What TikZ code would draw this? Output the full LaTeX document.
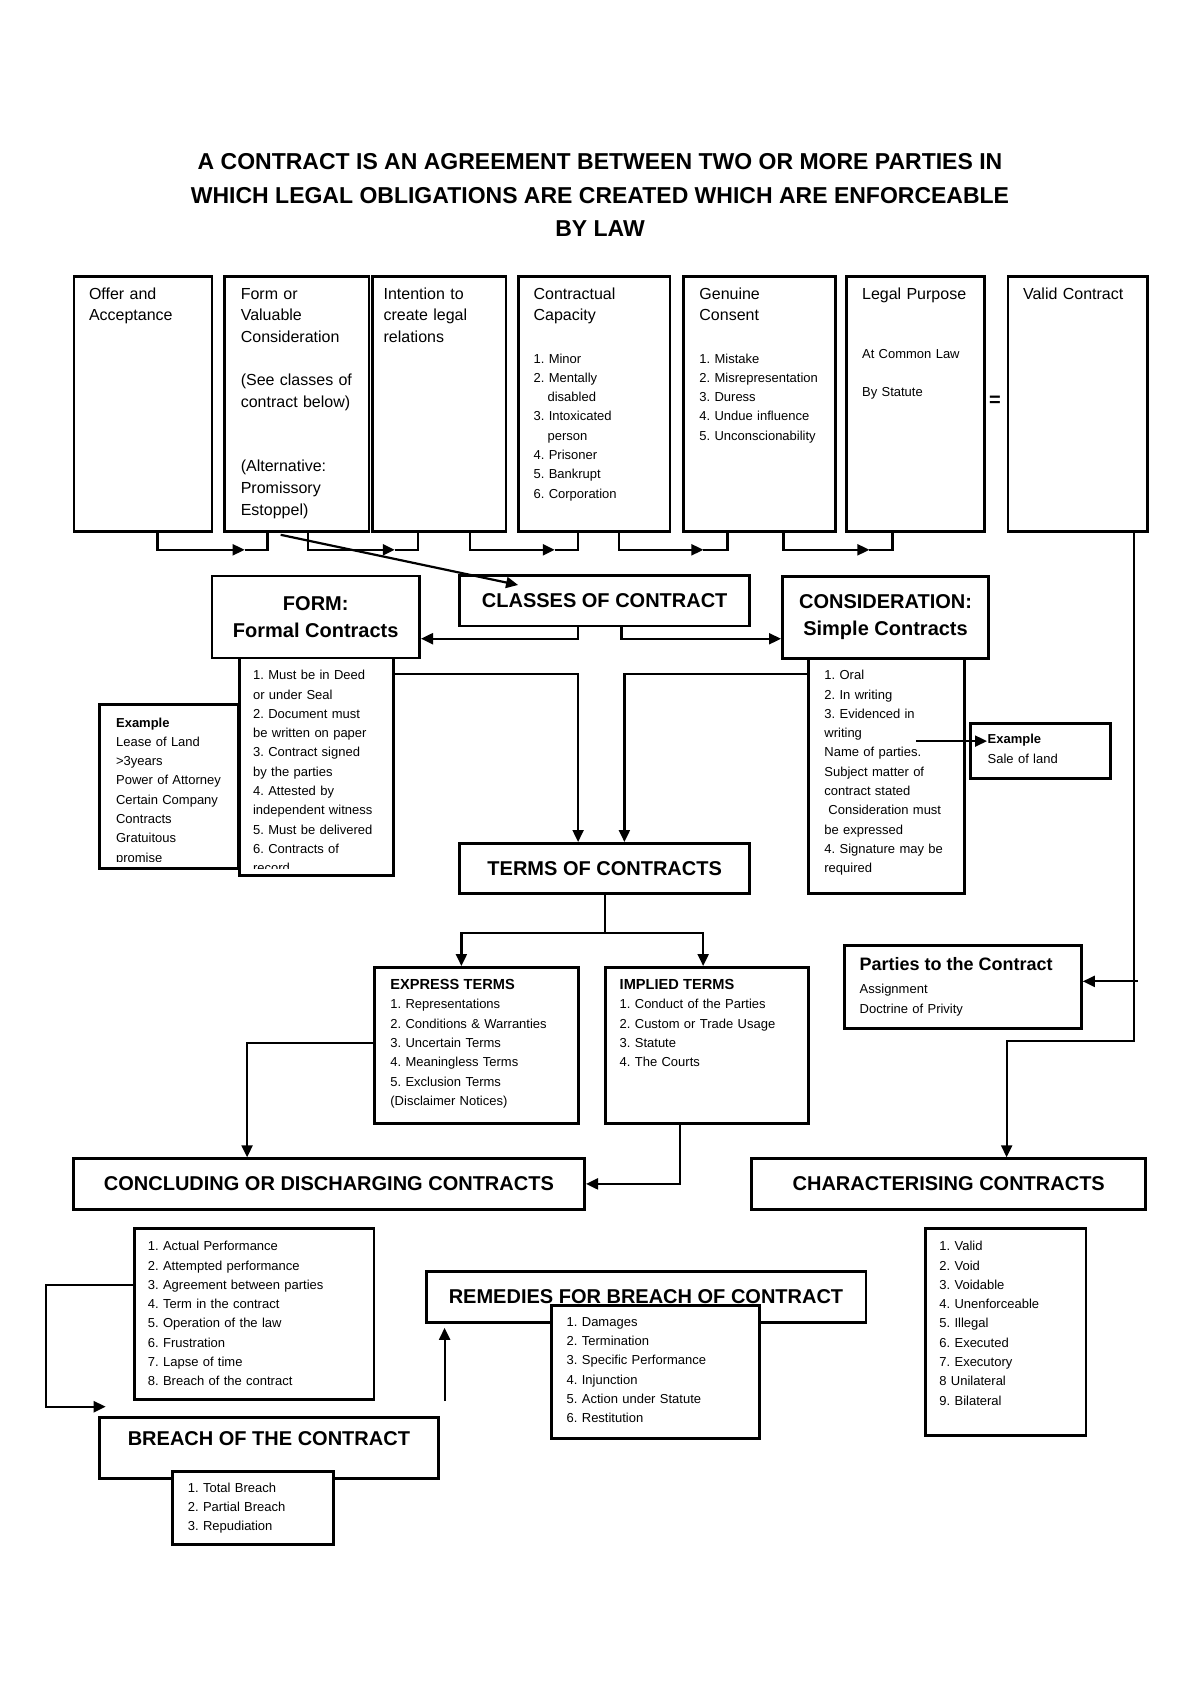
\documentclass[tikz,border=0pt]{standalone}
\usepackage{fontspec}
\setmainfont{Liberation Sans}
\frenchspacing
\usetikzlibrary{calc}
\usetikzlibrary{positioning}
\usetikzlibrary{arrows.meta}
\tikzstyle{frame} = [draw, rectangle, line width=1.4pt, fill=white, anchor=north west, inner sep=0pt]
\tikzstyle{headtext} = [anchor=base west, inner sep=0pt, text width=90pt, align=left, font=\fontsize{8}{10.8}\selectfont]
\tikzstyle{itemtext} = [anchor=base west, inner sep=0pt, text width=110pt, align=left, font=\fontsize{6.5}{9.65}\selectfont]
\tikzstyle{boldtext} = [font=\bfseries\fontsize{10}{13.3}\selectfont, align=center]
\tikzstyle{link} = [line width=1.1pt]
\tikzstyle{arr} = [-{Triangle[length=6pt,width=5.5pt]}]

\begin{document}
\begin{tikzpicture}[x=0.5pt, y=-0.5pt]
  \useasboundingbox (0,0) rectangle (1200,1698);

  \node[font=\bfseries\fontsize{11.5}{16.75}\selectfont, align=center] (title) at (600,195)
    {A CONTRACT IS AN AGREEMENT BETWEEN TWO OR MORE PARTIES IN\\WHICH LEGAL OBLIGATIONS ARE CREATED WHICH ARE ENFORCEABLE\\BY LAW};

  % elements of a valid contract
  \node[frame, minimum width=69pt, minimum height=127.5pt] (offer) at (72.5,275) {};
  \node[frame, minimum width=72.25pt, minimum height=127.5pt] (form) at (223,275) {};
  \node[frame, minimum width=66.75pt, minimum height=127.5pt] (intent) at (371,275) {};
  \node[frame, minimum width=75.75pt, minimum height=127.5pt] (capac) at (517,275) {};
  \node[frame, minimum width=76pt, minimum height=127.5pt] (consent) at (682,275) {};
  \node[frame, minimum width=69pt, minimum height=127.5pt] (purpose) at (845,275) {};
  \node[frame, minimum width=69.75pt, minimum height=127.5pt] (valid) at (1006.5,275) {};
  \node[boldtext] (equals) at (995,401.7) {=};

  \node[headtext] (offer-t) at ($(offer.north west)+(16.1,24)$) {Offer and\\Acceptance};
  \node[headtext] (form-t) at ($(form.north west)+(17.4,24)$) {Form or\\Valuable\\Consideration\\[10.8pt](See classes of\\contract below)\\[21.6pt](Alternative:\\Promissory\\Estoppel)};
  \node[headtext] (intent-t) at ($(intent.north west)+(12.2,24)$) {Intention to\\create legal\\relations};
  \node[headtext] (capac-t) at ($(capac.north west)+(16.2,24)$) {Contractual\\Capacity};
  \node[itemtext] (capac-l) at ($(capac.north west)+(16.2,88)$) {1. Minor\\2. Mentally\\\hspace*{7pt}disabled\\3. Intoxicated\\\hspace*{7pt}person\\4. Prisoner\\5. Bankrupt\\6. Corporation};
  \node[headtext] (consent-t) at ($(consent.north west)+(17,24)$) {Genuine\\Consent};
  \node[itemtext] (consent-l) at ($(consent.north west)+(17,88)$) {1. Mistake\\2. Misrepresentation\\3. Duress\\4. Undue influence\\5. Unconscionability};
  \node[headtext] (purpose-t) at ($(purpose.north west)+(16.7,24)$) {Legal Purpose};
  \node[itemtext] (purpose-l) at ($(purpose.north west)+(16.7,83.7)$) {At Common Law\\[9.2pt]By Statute};
  \node[headtext] (valid-t) at ($(valid.north west)+(16.2,24)$) {Valid Contract};

  % classes of contract
  \node[frame, boldtext, minimum width=103.85pt, minimum height=41pt] (formbox) at (210.5,574.5) {FORM:\\Formal Contracts};
  \node[frame, boldtext, minimum width=145pt, minimum height=25.1pt] (classes) at (458.3,574.3) {CLASSES OF CONTRACT};
  \node[frame, boldtext, minimum width=103.15pt, minimum height=40.85pt] (consid) at (781,575) {CONSIDERATION:\\Simple Contracts};

  \node[frame, minimum width=77.3pt, minimum height=108.9pt] (formlist) at (237.7,656.5) {};
  \begin{scope}
    \clip (formlist.north west) rectangle ($(formlist.south east)+(0,-9)$);
    \node[itemtext] (formlist-t) at ($(formlist.north west)+(15,23.2)$) {1. Must be in Deed\\or under Seal\\2. Document must\\be written on paper\\3. Contract signed\\by the parties\\4. Attested by\\independent witness\\5. Must be delivered\\6. Contracts of\\record};
  \end{scope}
  \node[frame, minimum width=69.45pt, minimum height=82pt] (exleft) at (98.3,703.3) {};
  \begin{scope}
    \clip (exleft.north west) rectangle ($(exleft.south east)+(0,-9)$);
    \node[itemtext] (exleft-t) at ($(exleft.north west)+(17.4,23.7)$) {\textbf{Example}\\Lease of Land\\>3years\\Power of Attorney\\Certain Company\\Contracts\\Gratuitous\\promise};
  \end{scope}

  \node[frame, minimum width=78pt, minimum height=117.5pt] (considlist) at (807.3,656.7) {};
  \node[itemtext] (considlist-t) at ($(considlist.north west)+(16.7,23)$) {1. Oral\\2. In writing\\3. Evidenced in\\writing\\Name of parties.\\Subject matter of\\contract stated\\\hspace*{2pt}Consideration must\\be expressed\\4. Signature may be\\required};
  \node[frame, minimum width=70pt, minimum height=27.5pt] (exright) at (969.3,721.7) {};
  \node[itemtext] (exright-t) at ($(exright.north west)+(18,22)$) {\textbf{Example}\\Sale of land};

  % terms
  \node[frame, boldtext, minimum width=145pt, minimum height=25.15pt] (terms) at (458.3,842) {TERMS OF CONTRACTS};
  \node[frame, minimum width=102.3pt, minimum height=77.85pt] (express) at (372.7,966) {};
  \node[itemtext] (express-t) at ($(express.north west)+(17.3,23.5)$) {{\bfseries\fontsize{7.3}{9.65}\selectfont EXPRESS TERMS}\\1. Representations\\2. Conditions \& Warranties\\3. Uncertain Terms\\4. Meaningless Terms\\5. Exclusion Terms\\(Disclaimer Notices)};
  \node[frame, minimum width=101.35pt, minimum height=78pt] (implied) at (604,966) {};
  \node[itemtext] (implied-t) at ($(implied.north west)+(15.3,23.5)$) {{\bfseries\fontsize{7.3}{9.65}\selectfont IMPLIED TERMS}\\1. Conduct of the Parties\\2. Custom or Trade Usage\\3. Statute\\4. The Courts};

  \node[frame, minimum width=118.35pt, minimum height=41.35pt] (parties) at (843.3,944) {};
  \node[anchor=base west, inner sep=0pt, font=\bfseries\fontsize{9}{11}\selectfont] (parties-t) at ($(parties.north west)+(16,26.7)$) {Parties to the Contract};
  \node[itemtext] (parties-l) at ($(parties.north west)+(16,49.7)$) {Assignment\\Doctrine of Privity};

  % ending and characterising
  \node[frame, boldtext, minimum width=255.7pt, minimum height=25.2pt] (concl) at (71.8,1157.3) {CONCLUDING OR DISCHARGING CONTRACTS};
  \node[frame, boldtext, minimum width=197.05pt, minimum height=25.2pt] (charact) at (750.3,1157.3) {CHARACTERISING CONTRACTS};
  \node[frame, minimum width=119.65pt, minimum height=85.2pt] (concllist) at (133.2,1227.3) {};
  \node[itemtext] (concllist-t) at ($(concllist.north west)+(14.3,23.4)$) {1. Actual Performance\\2. Attempted performance\\3. Agreement between parties\\4. Term in the contract\\5. Operation of the law\\6. Frustration\\7. Lapse of time\\8. Breach of the contract};
  \node[frame, minimum width=80.25pt, minimum height=103.35pt] (charlist) at (924,1227.3) {};
  \node[itemtext] (charlist-t) at ($(charlist.north west)+(15,23.4)$) {1. Valid\\2. Void\\3. Voidable\\4. Unenforceable\\5. Illegal\\6. Executed\\7. Executory\\8 Unilateral\\9. Bilateral};

  \node[frame, minimum width=169.3pt, minimum height=30.8pt] (breach) at (98.2,1415.7) {};
  \node[boldtext] (breach-t) at ($(breach.north)+(0,22.6)$) {BREACH OF THE CONTRACT};
  \node[frame, minimum width=80.7pt, minimum height=36.65pt] (breachlist) at (170.7,1470) {};
  \node[itemtext] (breachlist-t) at ($(breachlist.north west)+(16.8,22.3)$) {1. Total Breach\\2. Partial Breach\\3. Repudiation};

  \node[frame, boldtext, minimum width=219.9pt, minimum height=25.35pt] (remedies) at (424.7,1270) {REMEDIES FOR BREACH OF CONTRACT};
  \node[frame, minimum width=104.3pt, minimum height=66.35pt] (remedylist) at (549.8,1304) {};
  \node[itemtext] (remedylist-t) at ($(remedylist.north west)+(16.5,22.3)$) {1. Damages\\2. Termination\\3. Specific Performance\\4. Injunction\\5. Action under Statute\\6. Restitution};

  % brackets along the top row
  \draw[link,arr] ($(offer.south)+(14.5,0)$) |- ($(form.south)+(-52,17)$);
  \draw[link] ($(form.south)+(-52,17)$) -| ($(form.south)+(-29.2,0)$);
  \draw[link,arr] ($(form.south)+(11.4,0)$) |- ($(intent.south)+(-44.4,17)$);
  \draw[link] ($(intent.south)+(-44.4,17)$) -| ($(intent.south)+(-21,0)$);
  \draw[link,arr] ($(intent.south)+(30.5,0)$) |- ($(capac.south)+(-39.4,17)$);
  \draw[link] ($(capac.south)+(-39.4,17)$) -| ($(capac.south)+(-16,0)$);
  \draw[link,arr] ($(capac.south)+(24.7,0)$) |- ($(consent.south)+(-56,17)$);
  \draw[link] ($(consent.south)+(-56,17)$) -| ($(consent.south)+(-32,0)$);
  \draw[link,arr] ($(consent.south)+(24,0)$) |- ($(purpose.south)+(-46,17)$);
  \draw[link] ($(purpose.south)+(-46,17)$) -| ($(purpose.south)+(-23,0)$);
  \draw[link,arr] ($(form.south)+(-16,2)$) -- ($(classes.north)+(-86.6,10.7)$);

  \draw[link,arr] ($(classes.south)+(-26.6,0)$) |- ($(formbox.east)+(0,21.8)$);
  \draw[link,arr] ($(classes.south)+(16.7,0)$) |- ($(consid.west)+(0,21.5)$);
  \draw[link,arr] ($(formlist.north east)+(0,17.5)$) -| ($(terms.north)+(-26.6,0)$);
  \draw[link,arr] ($(considlist.north west)+(0,17.3)$) -| ($(terms.north)+(19.7,0)$);
  \draw[link,arr] ($(exright.west)+(-53.3,-9.5)$) -- ($(exright.west)+(17.7,-9.5)$);

  \coordinate (split) at ($(terms.south)+(0,37.7)$);
  \draw[link] (terms.south) -- (split);
  \draw[link,arr] (split) -| ($(express.north)+(-15,0)$);
  \draw[link,arr] (split) -| ($(implied.north)+(-3.6,0)$);
  \draw[link,arr] ($(express.west)+(0,-2.2)$) -| ($(concl.north)+(-81.8,0)$);
  \draw[link,arr] ($(implied.south)+(-26.9,0)$) |- (concl.east);

  \draw[link,arr] ($(valid.south)+(56,0)$) |- ($(charact.north)+(57.9,-116.6)$) -- ($(charact.north)+(57.9,0)$);
  \draw[link,arr] ($(parties.east)+(55,-5.4)$) -- ($(parties.east)+(0,-5.4)$);

  \draw[link,arr] ($(concllist.west)+(0,-29.2)$) -- ++(-87.4,0) |- ($(breach.north west)+(7.5,-9)$);
  \draw[link,arr] ($(remedies.south west)+(19.9,77.6)$) -- ($(remedies.south west)+(19.9,4.3)$);
\end{tikzpicture}
\end{document}
